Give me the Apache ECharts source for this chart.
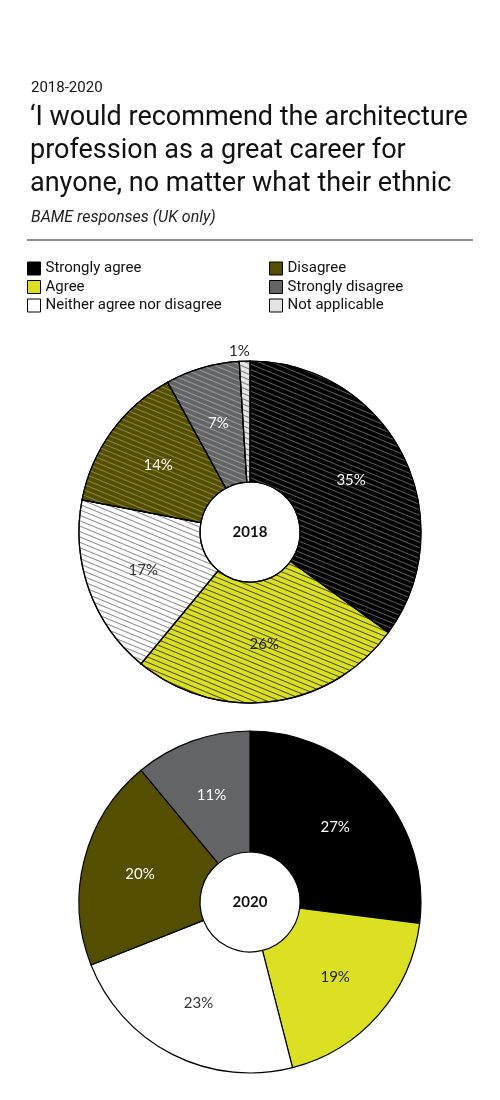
<!DOCTYPE html>
<html>
<head>
<meta charset="utf-8">
<title>BAME responses</title>
<script src="https://cdn.jsdelivr.net/npm/echarts@6/dist/echarts.min.js"></script>
<style>
  html, body { margin: 0; padding: 0; background: #fff; }
  #chart { width: 500px; height: 1100px; }
</style>
</head>
<body>
<div id="chart"></div>
<script>
// answer categories, in legend order
var categories = ["Strongly agree", "Agree", "Neither agree nor disagree", "Disagree", "Strongly disagree", "Not applicable"];
var colors = ["#000000", "#dbe022", "#ffffff", "#544e00", "#636466", "#e4e4e4"];
var stripeColors = ["#5a5a5a", "#4a4d10", "#8a8a8a", "#8c8740", "#9a9a9a", "#777777"];
var labelColors = ["#ffffff", "#222222", "#333333", "#ffffff", "#ffffff", "#222222"];

// share of responses, %
var values2018 = [35, 26, 17, 14, 7, 1];
var values2020 = [27, 19, 23, 20, 11];

var chart = echarts.init(document.getElementById("chart"), null, { renderer: "canvas" });

function makeData(vals, striped) {
    return vals.map(function (v, i) {
        var item = {
            name: categories[i],
            value: v,
            itemStyle: { color: colors[i] },
            label: { color: labelColors[i] }
        };
        if (striped) {
            item.itemStyle.decal = {
                symbol: "rect",
                symbolSize: 1,
                color: stripeColors[i],
                dashArrayX: [1, 0],
                dashArrayY: [1, 4],
                rotation: Math.PI / 8
            };
        }
        // the tiny slice gets its label outside, above the ring
        if (v < 3) {
            item.label = { position: "outside", color: "#222222" };
            item.labelLine = { show: false, length: 10, length2: 0 };
        }
        return item;
    });
}

function pieSeries(name, vals, center, striped) {
    return {
        name: name,
        type: "pie",
        center: center,
        radius: [50, 171],
        startAngle: 90,
        clockwise: true,
        avoidLabelOverlap: false,
        silent: true,
        itemStyle: { borderColor: "#000", borderWidth: 1.2 },
        label: {
            show: true,
            position: "inside",
            formatter: "{c}%",
            fontFamily: "Lato",
            fontSize: 15
        },
        labelLine: { show: false },
        labelLayout: function (p) {
            return p.dataIndex === 5 ? { align: "center" } : {};
        },
        emphasis: { disabled: true },
        data: makeData(vals, striped)
    };
}

var centers = [[250, 532], [250, 902]];

var legendBase = {
    orient: "vertical",
    top: 261,
    padding: 0,
    icon: "rect",
    itemWidth: 13,
    itemHeight: 13,
    itemGap: 3.5,
    itemTextGap: 3,
    selectedMode: false,
    itemStyle: { borderColor: "#000", borderWidth: 1, decal: "none" },
    textStyle: { fontFamily: "Roboto", fontSize: 15, color: "#111" }
};

chart.setOption({
    animation: false,
    backgroundColor: "#ffffff",
    title: [
        {
            text: "2018-2020",
            left: 26, top: 76,
            textStyle: { fontFamily: "Roboto", fontSize: 15, fontWeight: "normal", color: "#111" }
        },
        {
            text: "‘I would recommend the architecture\nprofession as a great career for\nanyone, no matter what their ethnic",
            left: 25, top: 97,
            textStyle: { fontFamily: "Roboto", fontSize: 27, fontWeight: "normal", lineHeight: 33, color: "#111" }
        },
        {
            text: "BAME responses (UK only)",
            left: 26, top: 205,
            textStyle: { fontFamily: "Roboto", fontSize: 16, fontStyle: "italic", fontWeight: "normal", color: "#222" }
        }
    ],
    legend: [
        Object.assign({}, legendBase, { left: 27, data: categories.slice(0, 3) }),
        Object.assign({}, legendBase, { left: 269, data: categories.slice(3) })
    ],
    graphic: [
        {
            type: "line",
            shape: { x1: 27, y1: 240, x2: 473, y2: 240 },
            style: { stroke: "#666", lineWidth: 1.5 }
        },
        {
            type: "text",
            x: centers[0][0], y: centers[0][1],
            style: { text: "2018", fontFamily: "Lato", fontWeight: "bold", fontSize: 15, fill: "#111", align: "center", verticalAlign: "middle" }
        },
        {
            type: "text",
            x: centers[1][0], y: centers[1][1],
            style: { text: "2020", fontFamily: "Lato", fontWeight: "bold", fontSize: 15, fill: "#111", align: "center", verticalAlign: "middle" }
        }
    ],
    series: [
        pieSeries("2018", values2018, centers[0], true),
        pieSeries("2020", values2020, centers[1], false)
    ]
});
</script>
</body>
</html>
